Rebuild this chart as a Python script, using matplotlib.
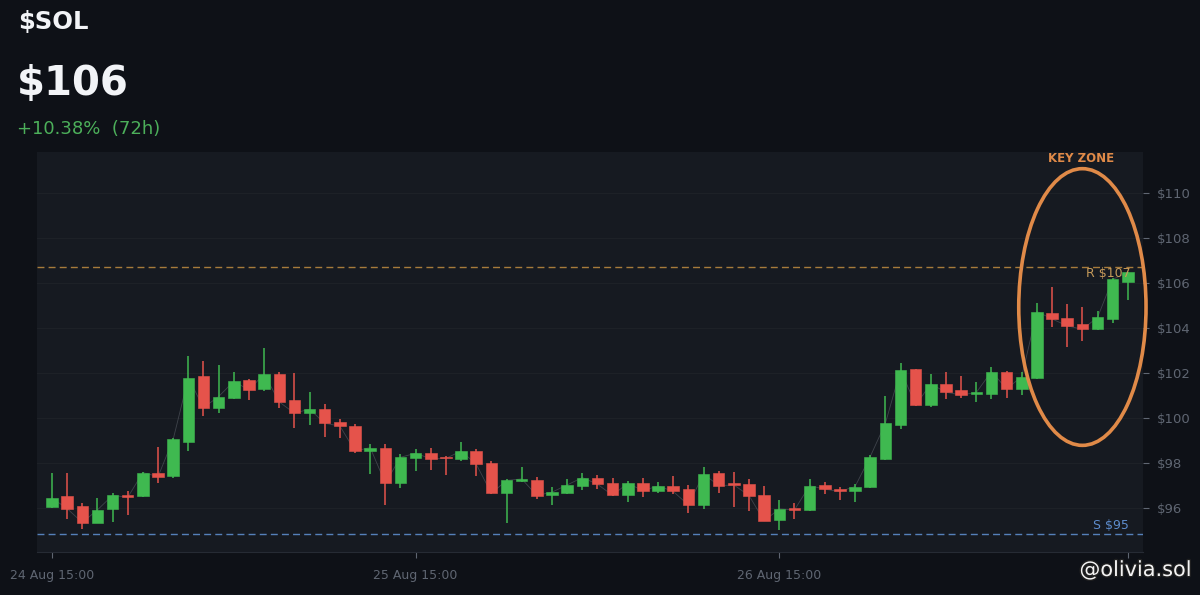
import matplotlib
matplotlib.use("Agg")
import matplotlib.pyplot as plt
from matplotlib.patches import Ellipse
import matplotlib.patheffects as pe
import numpy as np

# ---- data ----
opens = [96.06, 96.53, 96.10, 95.35, 95.94, 96.59, 96.55, 97.54, 97.42, 98.95,
         101.87, 100.46, 100.87, 101.67, 101.27, 101.96, 100.80, 100.21, 100.39, 99.84,
         99.66, 98.55, 98.65, 97.10, 98.21, 98.43, 98.27, 98.18, 98.55, 98.01,
         96.65, 97.19, 97.24, 96.58, 96.65, 96.98, 97.35, 97.10, 96.56, 97.10,
         96.73, 96.98, 96.83, 96.13, 97.54, 97.10, 97.05, 96.58, 95.47, 95.99,
         95.91, 97.02, 96.84, 96.73, 96.92, 98.18, 99.69, 102.16, 100.58, 101.51,
         101.24, 101.05, 101.07, 102.06, 101.29, 101.76, 104.65, 104.43, 104.16, 103.94,
         104.40, 106.06]
closes = [96.44, 95.97, 95.35, 95.91, 96.56, 96.47, 97.57, 97.39, 99.05, 101.78,
          100.46, 100.95, 101.63, 101.24, 101.96, 100.71, 100.21, 100.39, 99.76, 99.64,
          98.53, 98.68, 97.10, 98.25, 98.43, 98.18, 98.20, 98.53, 97.94, 96.65,
          97.22, 97.29, 96.55, 96.70, 97.02, 97.35, 97.05, 96.56, 97.10, 96.76,
          96.98, 96.73, 96.13, 97.51, 96.99, 97.02, 96.55, 95.42, 95.96, 95.91,
          96.99, 96.83, 96.73, 96.95, 98.28, 99.76, 102.13, 100.58, 101.51, 101.14,
          101.02, 101.13, 102.06, 101.29, 101.84, 104.73, 104.40, 104.09, 103.94, 104.47,
          106.16, 106.47]
highs = [97.57, 97.57, 96.20, 96.46, 96.68, 96.77, 97.60, 98.72, 99.10, 102.77,
         102.55, 102.33, 102.06, 101.72, 103.12, 102.06, 101.99, 101.14, 100.62, 99.93,
         99.75, 98.83, 98.83, 98.40, 98.62, 98.65, 98.30, 98.92, 98.62, 98.07,
         97.27, 97.81, 97.38, 96.95, 97.27, 97.54, 97.45, 97.35, 97.20, 97.32,
         97.17, 97.42, 97.00, 97.84, 97.65, 97.59, 97.27, 96.98, 96.33, 96.21,
         97.27, 97.17, 96.95, 97.05, 98.35, 100.98, 102.46, 102.18, 101.96, 102.02,
         101.87, 101.59, 102.25, 102.08, 102.06, 105.10, 105.84, 105.07, 104.95, 104.77,
         106.20, 106.50]
lows = [96.00, 95.50, 95.05, 95.33, 95.39, 95.70, 96.50, 97.12, 97.33, 98.55,
        100.09, 100.21, 100.85, 100.80, 101.20, 100.43, 99.57, 99.69, 99.17, 99.10,
        98.45, 97.51, 96.13, 96.87, 97.66, 97.69, 97.47, 98.10, 97.42, 96.62,
        95.35, 97.15, 96.40, 96.13, 96.60, 96.80, 96.83, 96.53, 96.28, 96.47,
        96.66, 96.63, 95.79, 95.96, 96.68, 96.06, 95.84, 95.40, 95.02, 95.50,
        95.88, 96.62, 96.36, 96.28, 96.90, 98.15, 99.50, 100.55, 100.50, 100.84,
        100.90, 100.70, 100.84, 100.87, 101.02, 101.72, 104.03, 103.14, 103.42, 103.92,
        104.21, 105.24]

tick_positions = [0, 24, 48, 71]
tick_labels = ["24 Aug 15:00", "25 Aug 15:00", "26 Aug 15:00", ""]
y_ticks = [96, 98, 100, 102, 104, 106, 108, 110]
resistance = 106.7
support = 94.85
symbol = "$SOL"
price_text = "$106"
change_text = "+10.38%  (72h)"
watermark = "@olivia.sol"

# ---- style ----
FIG_BG = "#0e1117"
AX_BG = "#161a21"
GREEN = "#3fb950"
RED = "#e5534b"
TICK_C = "#5f6672"
ORANGE = "#e08a48"

fig = plt.figure(figsize=(12, 5.95), dpi=100, facecolor=FIG_BG)
ax = fig.add_axes([0.0308, 0.0723, 0.9217, 0.6722], facecolor=AX_BG)

x = np.arange(len(opens))
o = np.array(opens); c = np.array(closes); h = np.array(highs); l = np.array(lows)
up = c >= o
colors = np.where(up, GREEN, RED)

# faint close line
ax.plot(x, c, color="#8a8f99", lw=0.6, alpha=0.35, zorder=2)
# wicks
ax.vlines(x, l, h, colors=colors, lw=1.1, zorder=3)
# bodies
bottoms = np.minimum(o, c)
heights = np.maximum(np.abs(c - o), 0.06)
ax.bar(x, heights, bottom=bottoms, width=0.76, color=colors, edgecolor=colors,
       linewidth=0.4, zorder=4)

# support / resistance
ax.axhline(resistance, color="#b8863f", lw=1.0, ls=(0, (5, 3)), alpha=0.9, zorder=1)
ax.axhline(support, color="#5d8ccc", lw=1.0, ls=(0, (5, 3)), alpha=0.9, zorder=1)
ax.text(71.2, resistance + 0.02, f"R ${resistance:.0f}", color="#c59a5a", fontsize=9,
        ha="right", va="top", zorder=5)
ax.text(71.1, support + 0.08, f"S ${support:.0f}", color="#5d8ccc", fontsize=9,
        ha="right", va="bottom", zorder=5)

# key zone ellipse
ell = Ellipse((68.0, 104.93), width=8.4, height=12.3, fill=False,
              edgecolor=ORANGE, lw=2.6, clip_on=False, zorder=6)
ax.add_patch(ell)
ax.text(67.9, 111.55, "KEY ZONE", color=ORANGE, fontsize=8.5, fontweight="bold",
        ha="center", va="center", zorder=6)

ax.set_xlim(-0.99, 72.0)
ax.set_ylim(94.04, 111.82)

ax.yaxis.tick_right()
ax.set_yticks(y_ticks)
ax.set_yticklabels([f"${v}" for v in y_ticks])
ax.set_xticks(tick_positions)
ax.set_xticklabels(tick_labels)
ax.tick_params(axis="y", colors=TICK_C, labelcolor=TICK_C, labelsize=9.5, length=4, pad=6)
ax.tick_params(axis="x", colors=TICK_C, labelcolor=TICK_C, labelsize=9, length=4, pad=8)
ax.grid(axis="y", color="#ffffff", alpha=0.03, lw=0.8)
for s in ["top", "left", "right"]:
    ax.spines[s].set_visible(False)
ax.spines["bottom"].set_color("#262b34")

# header
fig.text(18 / 1200, 1 - 22 / 595, symbol, color="#f2f4f7", fontsize=17.5,
         fontweight="bold", ha="left", va="center")
fig.text(17 / 1200, 1 - 84 / 595, price_text, color="#f2f4f7", fontsize=29,
         fontweight="bold", ha="left", va="center")
fig.text(17 / 1200, 1 - 129 / 595, change_text, color="#4caf5a", fontsize=13,
         ha="left", va="center")

# watermark
fig.text(1192 / 1200, 1 - 570 / 595, watermark, color="#ffffff", fontsize=15,
         ha="right", va="center", alpha=0.95,
         path_effects=[pe.withStroke(linewidth=2, foreground="#222222")])

fig.savefig("out.png", dpi=100, facecolor=FIG_BG)
